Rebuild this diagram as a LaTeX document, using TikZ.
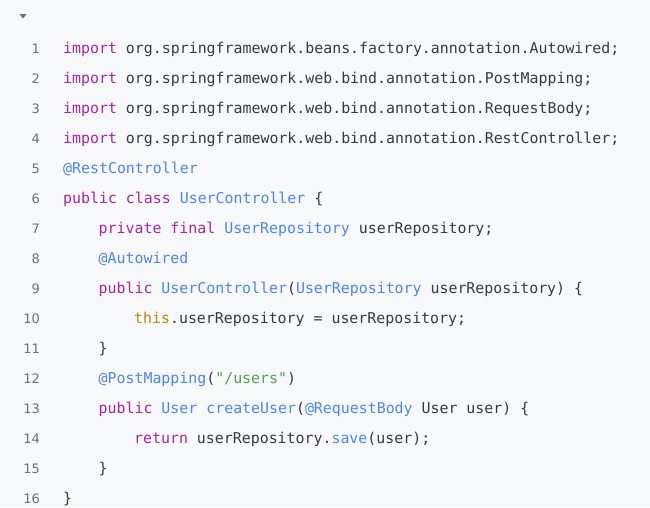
\documentclass[tikz,border=0pt]{standalone}
\usepackage{fontspec}
\setmonofont{DejaVu Sans Mono}
\setmainfont{DejaVu Sans}
\definecolor{bg}{HTML}{F7F8FA}
\definecolor{kw}{HTML}{A626A4}
\definecolor{ty}{HTML}{4E86E8}
\definecolor{th}{HTML}{B8860B}
\definecolor{st}{HTML}{50A14F}
\definecolor{tx}{HTML}{383A42}
\definecolor{ln}{HTML}{707070}
\newcommand{\K}[1]{\textcolor{kw}{#1}}
\newcommand{\T}[1]{\textcolor{ty}{#1}}
\begin{document}
\begin{tikzpicture}[x=1pt,y=-1pt,
  code/.style={anchor=base west,inner sep=0pt,font=\ttfamily\fontsize{14.9}{15}\selectfont,text=tx},
  num/.style={anchor=base east,inner sep=0pt,font=\fontsize{13}{14}\selectfont,text=ln}]
\fill[bg] (0,0) rectangle (650,507);
\useasboundingbox (0,0) rectangle (650,507);
\fill[ln] (19.5,14) -- (26.5,14) -- (23,18.5) -- cycle;
\foreach \i in {1,...,16}{\node[num] (n\i) at (40,{53+30*(\i-1)}) {\i};}
\node[code] (l1) at (63,53) {\K{import} org.springframework.beans.factory.annotation.Autowired;};
\node[code] (l2) at (63,83) {\K{import} org.springframework.web.bind.annotation.PostMapping;};
\node[code] (l3) at (63,113) {\K{import} org.springframework.web.bind.annotation.RequestBody;};
\node[code] (l4) at (63,143) {\K{import} org.springframework.web.bind.annotation.RestController;};
\node[code] (l5) at (63,173) {\T{@RestController}};
\node[code] (l6) at (63,203) {\K{public class} \T{UserController} \{};
\node[code] (l7) at (98.5,233) {\K{private final} \T{UserRepository} userRepository;};
\node[code] (l8) at (98.5,263) {\T{@Autowired}};
\node[code] (l9) at (98.5,293) {\K{public} \T{UserController}(\T{UserRepository} userRepository) \{};
\node[code] (l10) at (134,323) {\textcolor{th}{this}.userRepository = userRepository;};
\node[code] (l11) at (98.5,353) {\}};
\node[code] (l12) at (98.5,383) {\T{@PostMapping}(\textcolor{st}{"/users"})};
\node[code] (l13) at (98.5,413) {\K{public} \T{User} \T{createUser}(\T{@RequestBody} User user) \{};
\node[code] (l14) at (134,443) {\K{return} userRepository.\T{save}(user);};
\node[code] (l15) at (98.5,473) {\}};
\node[code] (l16) at (63,503) {\}};
\end{tikzpicture}
\end{document}
